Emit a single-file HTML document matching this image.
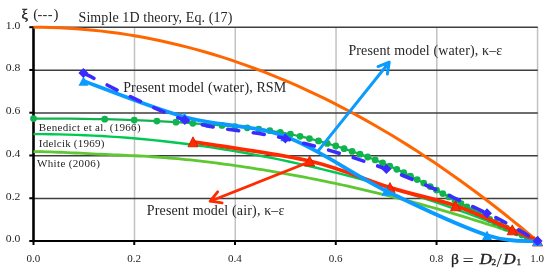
<!DOCTYPE html>
<html><head><meta charset="utf-8"><style>
html,body{margin:0;padding:0;background:#fff;width:550px;height:274px;overflow:hidden}
svg{display:block;filter:blur(0.3px)}
</style></head><body>
<svg width="550" height="274" viewBox="0 0 550 274">
<rect width="550" height="274" fill="#fff"/>
<line x1="134.51" y1="27.2" x2="134.51" y2="241" stroke="#c2c2c2" stroke-width="1.5"/><line x1="235.27" y1="27.2" x2="235.27" y2="241" stroke="#c2c2c2" stroke-width="1.5"/><line x1="336.03" y1="27.2" x2="336.03" y2="241" stroke="#c2c2c2" stroke-width="1.5"/><line x1="436.79" y1="27.2" x2="436.79" y2="241" stroke="#c2c2c2" stroke-width="1.5"/><line x1="537.55" y1="27.2" x2="537.55" y2="241" stroke="#c2c2c2" stroke-width="1.5"/><line x1="33.5" y1="198.54" x2="537.8" y2="198.54" stroke="#3e3e3e" stroke-width="1.4"/><line x1="33.5" y1="155.78" x2="537.8" y2="155.78" stroke="#3e3e3e" stroke-width="1.4"/><line x1="33.5" y1="113.02" x2="537.8" y2="113.02" stroke="#3e3e3e" stroke-width="1.4"/><line x1="33.5" y1="70.26" x2="537.8" y2="70.26" stroke="#3e3e3e" stroke-width="1.4"/><line x1="33.5" y1="27.2" x2="537.8" y2="27.2" stroke="#3e3e3e" stroke-width="1.4"/>
<line x1="29.3" y1="241" x2="33.5" y2="241" stroke="#000" stroke-width="2"/><line x1="29.3" y1="198.24" x2="33.5" y2="198.24" stroke="#000" stroke-width="2"/><line x1="29.3" y1="155.48" x2="33.5" y2="155.48" stroke="#000" stroke-width="2"/><line x1="29.3" y1="112.72" x2="33.5" y2="112.72" stroke="#000" stroke-width="2"/><line x1="29.3" y1="69.96" x2="33.5" y2="69.96" stroke="#000" stroke-width="2"/><line x1="29.3" y1="27.2" x2="33.5" y2="27.2" stroke="#000" stroke-width="2"/><line x1="33.5" y1="241" x2="33.5" y2="245" stroke="#000" stroke-width="2"/><line x1="134.26" y1="241" x2="134.26" y2="245" stroke="#000" stroke-width="2"/><line x1="235.02" y1="241" x2="235.02" y2="245" stroke="#000" stroke-width="2"/><line x1="335.78" y1="241" x2="335.78" y2="245" stroke="#000" stroke-width="2"/><line x1="436.54" y1="241" x2="436.54" y2="245" stroke="#000" stroke-width="2"/><line x1="537.3" y1="241" x2="537.3" y2="245" stroke="#000" stroke-width="2"/>
<line x1="33.5" y1="26.6" x2="33.5" y2="242.1" stroke="#000" stroke-width="2.6"/><line x1="32.2" y1="241" x2="537.3" y2="241" stroke="#000" stroke-width="2.2"/>
<path d="M33.5,151.55 L37.73,151.62 L41.97,151.71 L46.2,151.83 L50.43,151.96 L54.67,152.1 L58.9,152.26 L63.14,152.44 L67.37,152.62 L71.6,152.81 L75.84,153.01 L80.07,153.22 L84.3,153.42 L88.54,153.63 L92.77,153.83 L97,154.03 L101.24,154.23 L105.47,154.42 L109.71,154.61 L113.94,154.79 L118.17,154.98 L122.41,155.17 L126.64,155.36 L130.87,155.56 L135.11,155.77 L139.34,155.99 L143.57,156.22 L147.81,156.47 L152.04,156.74 L156.27,157.02 L160.51,157.32 L164.74,157.64 L168.98,157.98 L173.21,158.34 L177.44,158.72 L181.68,159.12 L185.91,159.54 L190.14,159.98 L194.38,160.43 L198.61,160.9 L202.84,161.39 L207.08,161.89 L211.31,162.41 L215.55,162.95 L219.78,163.49 L224.01,164.05 L228.25,164.63 L232.48,165.22 L236.71,165.82 L240.95,166.43 L245.18,167.06 L249.41,167.7 L253.65,168.35 L257.88,169.02 L262.12,169.69 L266.35,170.39 L270.58,171.09 L274.82,171.81 L279.05,172.54 L283.28,173.28 L287.52,174.03 L291.75,174.8 L295.98,175.58 L300.22,176.37 L304.45,177.18 L308.68,178 L312.92,178.83 L317.15,179.67 L321.39,180.53 L325.62,181.39 L329.85,182.28 L334.09,183.17 L338.32,184.08 L342.55,185 L346.79,185.93 L351.02,186.87 L355.25,187.83 L359.49,188.8 L363.72,189.78 L367.96,190.78 L372.19,191.79 L376.42,192.81 L380.66,193.84 L384.89,194.89 L389.12,195.95 L393.36,197.02 L397.59,198.1 L401.82,199.2 L406.06,200.31 L410.29,201.43 L414.53,202.57 L418.76,203.71 L422.99,204.87 L427.23,206.05 L431.46,207.23 L435.69,208.43 L439.93,209.64 L444.16,210.87 L448.39,212.1 L452.63,213.35 L456.86,214.61 L461.09,215.89 L465.33,217.18 L469.56,218.48 L473.8,219.79 L478.03,221.11 L482.26,222.45 L486.5,223.8 L490.73,225.17 L494.96,226.54 L499.2,227.93 L503.43,229.33 L507.66,230.75 L511.9,232.17 L516.13,233.61 L520.37,235.06 L524.6,236.53 L528.83,238.01 L533.07,239.5 L537.3,241" fill="none" stroke="#5ec832" stroke-width="2.8"/>
<path d="M33.5,134.1 L42.04,134.13 L50.58,134.22 L59.12,134.38 L67.66,134.59 L76.19,134.87 L84.73,135.21 L93.27,135.6 L101.81,136.07 L110.35,136.59 L118.89,137.17 L127.43,137.82 L135.97,138.52 L144.51,139.29 L153.05,140.12 L161.58,141.01 L170.12,141.96 L178.66,142.98 L187.2,144.05 L195.74,145.19 L204.28,146.38 L212.82,147.64 L221.36,148.96 L229.9,150.35 L238.44,151.79 L246.97,153.29 L255.51,154.86 L264.05,156.49 L272.59,158.18 L281.13,159.93 L289.67,161.74 L298.21,163.61 L306.75,165.55 L315.29,167.54 L323.83,169.6 L332.36,171.72 L340.9,173.9 L349.44,176.14 L357.98,178.44 L366.52,180.81 L375.06,183.24 L383.6,185.72 L392.14,188.27 L400.68,190.88 L409.22,193.55 L417.75,196.29 L426.29,199.08 L434.83,201.94 L443.37,204.85 L451.91,207.83 L460.45,210.87 L468.99,213.98 L477.53,217.14 L486.07,220.36 L494.61,223.65 L503.14,227 L511.68,230.41 L520.22,233.88 L528.76,237.41 L537.3,241" fill="none" stroke="#00c853" stroke-width="2.4"/>
<path d="M33.5,118.58 L69.12,118.72 L83.88,118.87 L95.2,119.04 L104.75,119.22 L113.16,119.42 L120.76,119.63 L127.75,119.85 L134.26,120.08 L140.37,120.32 L146.15,120.56 L151.65,120.82 L156.91,121.08 L161.94,121.35 L166.79,121.62 L171.47,121.89 L176,122.17 L180.38,122.45 L184.64,122.73 L188.78,123.01 L192.82,123.28 L196.75,123.56 L200.59,123.83 L204.35,124.1 L208.02,124.37 L211.62,124.64 L215.15,124.91 L218.61,125.19 L222,125.46 L225.34,125.74 L228.62,126.02 L231.85,126.3 L235.02,126.59 L238.14,126.89 L241.22,127.19 L244.25,127.5 L247.24,127.81 L250.19,128.13 L253.1,128.46 L255.97,128.8 L258.81,129.15 L261.61,129.51 L264.37,129.88 L267.1,130.27 L269.8,130.66 L272.47,131.07 L275.11,131.49 L277.73,131.93 L280.31,132.37 L282.87,132.83 L285.4,133.3 L287.91,133.78 L290.39,134.27 L292.85,134.78 L295.28,135.29 L297.69,135.81 L300.09,136.35 L302.46,136.89 L304.8,137.44 L307.13,138 L309.44,138.58 L311.73,139.15 L314,139.74 L316.26,140.34 L318.49,140.94 L320.71,141.55 L322.91,142.17 L325.1,142.79 L327.26,143.42 L329.42,144.06 L331.55,144.7 L333.67,145.35 L335.78,146 L337.87,146.66 L339.95,147.32 L342.01,147.99 L344.06,148.66 L346.1,149.34 L348.12,150.02 L350.13,150.7 L352.13,151.38 L354.12,152.07 L356.09,152.76 L358.05,153.46 L360,154.16 L361.94,154.86 L363.86,155.57 L365.78,156.28 L367.68,156.99 L369.58,157.71 L371.46,158.44 L373.33,159.17 L375.19,159.91 L377.05,160.65 L378.89,161.4 L380.72,162.16 L382.54,162.93 L384.36,163.7 L386.16,164.48 L387.95,165.26 L389.74,166.06 L391.52,166.86 L393.29,167.67 L395.04,168.49 L396.8,169.32 L398.54,170.15 L400.27,170.99 L402,171.84 L403.72,172.69 L405.43,173.54 L407.13,174.4 L408.82,175.26 L410.51,176.12 L412.19,176.99 L413.86,177.86 L415.53,178.73 L417.18,179.6 L418.83,180.47 L420.48,181.35 L422.11,182.22 L423.74,183.09 L425.36,183.97 L426.98,184.84 L428.59,185.71 L430.19,186.58 L431.79,187.45 L433.38,188.33 L434.96,189.2 L436.54,190.06 L438.11,190.93 L439.68,191.8 L441.24,192.66 L442.79,193.53 L444.34,194.39 L445.88,195.25 L447.41,196.11 L448.94,196.96 L450.47,197.82 L451.99,198.67 L453.5,199.52 L455.01,200.37 L456.51,201.21 L458.01,202.05 L459.5,202.89 L460.99,203.72 L462.47,204.55 L463.95,205.38 L465.42,206.2 L466.89,207.02 L468.35,207.84 L469.8,208.65 L471.26,209.46 L472.7,210.26 L474.15,211.06 L475.58,211.86 L477.02,212.65 L478.44,213.43 L479.87,214.21 L481.29,214.98 L482.7,215.75 L484.11,216.52 L485.52,217.28 L486.92,218.03 L488.32,218.77 L489.71,219.52 L491.1,220.25 L492.48,220.98 L493.86,221.7 L495.24,222.41 L496.61,223.12 L497.98,223.82 L499.34,224.52 L500.7,225.21 L502.06,225.89 L503.41,226.56 L504.76,227.23 L506.11,227.88 L507.45,228.53 L508.78,229.17 L510.12,229.81 L511.45,230.43 L512.77,231.05 L514.09,231.66 L515.41,232.26 L516.73,232.85 L518.04,233.43 L519.35,234.01 L520.65,234.57 L521.95,235.12 L523.25,235.67 L524.54,236.21 L525.83,236.73 L527.12,237.25 L528.4,237.75 L529.69,238.25 L530.96,238.73 L532.24,239.21 L533.51,239.67 L534.77,240.13 L536.04,240.57 L537.3,241" fill="none" stroke="#10b44e" stroke-width="2.2"/>
<g fill="#10b44e"><circle cx="33.5" cy="118.58" r="3.4"/><circle cx="104.75" cy="119.22" r="3.4"/><circle cx="134.26" cy="120.08" r="3.4"/><circle cx="156.91" cy="121.08" r="3.4"/><circle cx="176" cy="122.17" r="3.4"/><circle cx="192.82" cy="123.28" r="3.4"/><circle cx="208.02" cy="124.37" r="3.4"/><circle cx="222" cy="125.46" r="3.4"/><circle cx="235.02" cy="126.59" r="3.4"/><circle cx="247.24" cy="127.81" r="3.4"/><circle cx="258.81" cy="129.15" r="3.4"/><circle cx="269.8" cy="130.66" r="3.4"/><circle cx="280.31" cy="132.37" r="3.4"/><circle cx="290.39" cy="134.27" r="3.4"/><circle cx="300.09" cy="136.35" r="3.4"/><circle cx="309.44" cy="138.58" r="3.4"/><circle cx="318.49" cy="140.94" r="3.4"/><circle cx="327.26" cy="143.42" r="3.4"/><circle cx="335.78" cy="146" r="3.4"/><circle cx="344.06" cy="148.66" r="3.4"/><circle cx="352.13" cy="151.38" r="3.4"/><circle cx="360" cy="154.16" r="3.4"/><circle cx="367.68" cy="156.99" r="3.4"/><circle cx="375.19" cy="159.91" r="3.4"/><circle cx="382.54" cy="162.93" r="3.4"/><circle cx="389.74" cy="166.06" r="3.4"/><circle cx="396.8" cy="169.32" r="3.4"/><circle cx="403.72" cy="172.69" r="3.4"/><circle cx="410.51" cy="176.12" r="3.4"/><circle cx="417.18" cy="179.6" r="3.4"/><circle cx="423.74" cy="183.09" r="3.4"/><circle cx="430.19" cy="186.58" r="3.4"/><circle cx="436.54" cy="190.06" r="3.4"/><circle cx="442.79" cy="193.53" r="3.4"/><circle cx="448.94" cy="196.96" r="3.4"/><circle cx="455.01" cy="200.37" r="3.4"/><circle cx="460.99" cy="203.72" r="3.4"/><circle cx="466.89" cy="207.02" r="3.4"/><circle cx="472.7" cy="210.26" r="3.4"/><circle cx="478.44" cy="213.43" r="3.4"/><circle cx="484.11" cy="216.52" r="3.4"/><circle cx="489.71" cy="219.52" r="3.4"/><circle cx="495.24" cy="222.41" r="3.4"/><circle cx="500.7" cy="225.21" r="3.4"/><circle cx="506.11" cy="227.88" r="3.4"/><circle cx="511.45" cy="230.43" r="3.4"/><circle cx="516.73" cy="232.85" r="3.4"/><circle cx="521.95" cy="235.12" r="3.4"/><circle cx="527.12" cy="237.25" r="3.4"/><circle cx="532.24" cy="239.21" r="3.4"/><circle cx="537.3" cy="241" r="3.4"/></g>
<path d="M33.5,27.2 L42.04,27.26 L50.58,27.45 L59.12,27.75 L67.66,28.18 L76.19,28.74 L84.73,29.41 L93.27,30.21 L101.81,31.13 L110.35,32.17 L118.89,33.34 L127.43,34.63 L135.97,36.04 L144.51,37.58 L153.05,39.24 L161.58,41.02 L170.12,42.92 L178.66,44.95 L187.2,47.1 L195.74,49.37 L204.28,51.77 L212.82,54.29 L221.36,56.93 L229.9,59.69 L238.44,62.58 L246.97,65.59 L255.51,68.72 L264.05,71.97 L272.59,75.35 L281.13,78.85 L289.67,82.48 L298.21,86.22 L306.75,90.09 L315.29,94.09 L323.83,98.2 L332.36,102.44 L340.9,106.8 L349.44,111.28 L357.98,115.89 L366.52,120.62 L375.06,125.47 L383.6,130.45 L392.14,135.54 L400.68,140.76 L409.22,146.11 L417.75,151.57 L426.29,157.16 L434.83,162.87 L443.37,168.71 L451.91,174.67 L460.45,180.75 L468.99,186.95 L477.53,193.28 L486.07,199.73 L494.61,206.3 L503.14,212.99 L511.68,219.81 L520.22,226.75 L528.76,233.81 L537.3,241" fill="none" stroke="#ff6600" stroke-width="3"/>
<path d="M193,141.8 C212.43,145 276.77,153.37 309.6,161 C342.43,168.63 365.67,180.13 390,187.6 C414.33,195.07 435.22,198.77 455.6,205.8 C475.98,212.83 498.63,223.93 512.3,229.8 C525.97,235.67 533.38,239.13 537.6,241" fill="none" stroke="#ff2a00" stroke-width="3.8" stroke-linejoin="round"/>
<path d="M193,136.8 L198.1,146.8 L187.9,146.8Z M309.6,156 L314.7,166 L304.5,166Z M390,182.6 L395.1,192.6 L384.9,192.6Z M455.6,200.8 L460.7,210.8 L450.5,210.8Z M512.3,224.8 L517.4,234.8 L507.2,234.8Z M537.6,236 L542.7,246 L532.5,246Z" fill="#ff2a00" stroke="#d01800" stroke-width="0.8"/>
<path d="M83.5,81 C100.33,87 150.87,107.75 184.5,117 C218.13,126.25 251.65,124.17 285.3,136.5 C318.95,148.83 352.78,174.55 386.4,191 C420.02,207.45 461.82,226.82 487,235.2 C512.18,243.58 529.08,240.28 537.5,241.3" fill="none" stroke="#0a9bff" stroke-width="3.8" stroke-linejoin="round"/>
<path d="M83.5,76.25 L88.5,85.75 L78.5,85.75Z M184.5,112.25 L189.5,121.75 L179.5,121.75Z M285.3,131.75 L290.3,141.25 L280.3,141.25Z M386.4,186.25 L391.4,195.75 L381.4,195.75Z M487,230.45 L492,239.95 L482,239.95Z M537.5,236.55 L542.5,246.05 L532.5,246.05Z" fill="#0a9bff"/>
<path d="M83.4,73.1 C100.3,80.92 151.13,109.08 184.8,120 C218.47,130.92 251.8,130.42 285.4,138.6 C319,146.78 352.8,156.65 386.4,169.1 C420,181.55 461.8,201.32 487,213.3 C512.2,225.28 529.17,236.38 537.6,241" fill="none" stroke="#3a2cff" stroke-width="3.6" stroke-dasharray="11 14.8" stroke-dashoffset="-1" stroke-linecap="round"/>
<path d="M83.4,68.1 L88.4,73.1 L83.4,78.1 L78.4,73.1Z M184.8,115 L189.8,120 L184.8,125 L179.8,120Z M285.4,133.6 L290.4,138.6 L285.4,143.6 L280.4,138.6Z M386.4,164.1 L391.4,169.1 L386.4,174.1 L381.4,169.1Z M487,208.3 L492,213.3 L487,218.3 L482,213.3Z M537.6,236 L542.6,241 L537.6,246 L532.6,241Z" fill="#3a2cff"/>
<path d="M317.8,151.4 L389.2,62.2 M387.39,74.06 L389.2,62.2 L378.02,66.56" fill="none" stroke="#0a9bff" stroke-width="3.0" stroke-linecap="round" stroke-linejoin="round"/>
<path d="M307.3,162.8 L210.2,201.2 M217.66,191.8 L210.2,201.2 L222.07,202.96" fill="none" stroke="#ff2a00" stroke-width="2.8" stroke-linecap="round" stroke-linejoin="round"/>
<g style="font-family:'Liberation Serif',serif" fill="#262626">
<text x="78.5" y="21.8" font-size="14" textLength="153.8" lengthAdjust="spacing" >Simple 1D theory, Eq. (17)</text><text x="348.4" y="55.2" font-size="14" textLength="153.8" lengthAdjust="spacing" >Present model (water), κ–ε</text><text x="123.2" y="92" font-size="14" textLength="163" lengthAdjust="spacing" >Present model (water), RSM</text><text x="146.8" y="215" font-size="14" textLength="137.6" lengthAdjust="spacing" >Present model (air), κ–ε</text><text x="38.8" y="131.2" font-size="11" textLength="101.8" lengthAdjust="spacing" >Benedict et al. (1966)</text><text x="38.8" y="146.7" font-size="11" textLength="65.5" lengthAdjust="spacing" >Idelcik (1969)</text><text x="37" y="167" font-size="11" textLength="62.8" lengthAdjust="spacing" >White (2006)</text><text x="21.5" y="19" font-size="14.5" stroke="#1a1a1a" stroke-width="0.45">ξ</text><text x="33.2" y="19.2" font-size="14.8">(</text><text x="37.5 42.6 47.7" y="19" font-size="14.5" fill="#333">---</text><text x="53.6" y="19.2" font-size="14.8">)</text>
<text x="20.4" y="28.6" font-size="10" text-anchor="end" textLength="14.6" lengthAdjust="spacingAndGlyphs">1.0</text><text x="20.4" y="71.36" font-size="10" text-anchor="end" textLength="14.6" lengthAdjust="spacingAndGlyphs">0.8</text><text x="20.4" y="114.12" font-size="10" text-anchor="end" textLength="14.6" lengthAdjust="spacingAndGlyphs">0.6</text><text x="20.4" y="156.88" font-size="10" text-anchor="end" textLength="14.6" lengthAdjust="spacingAndGlyphs">0.4</text><text x="20.4" y="199.64" font-size="10" text-anchor="end" textLength="14.6" lengthAdjust="spacingAndGlyphs">0.2</text><text x="20.4" y="242.4" font-size="10" text-anchor="end" textLength="14.6" lengthAdjust="spacingAndGlyphs">0.0</text>
<text x="33.3" y="262" font-size="10" text-anchor="middle" textLength="13.8" lengthAdjust="spacingAndGlyphs">0.0</text><text x="134.06" y="262" font-size="10" text-anchor="middle" textLength="13.8" lengthAdjust="spacingAndGlyphs">0.2</text><text x="234.82" y="262" font-size="10" text-anchor="middle" textLength="13.8" lengthAdjust="spacingAndGlyphs">0.4</text><text x="335.58" y="262" font-size="10" text-anchor="middle" textLength="13.8" lengthAdjust="spacingAndGlyphs">0.6</text><text x="436.34" y="262" font-size="10" text-anchor="middle" textLength="13.8" lengthAdjust="spacingAndGlyphs">0.8</text><text x="537.1" y="262" font-size="10" text-anchor="middle" textLength="13.8" lengthAdjust="spacingAndGlyphs">1.0</text>
<text x="450.9" y="263.8" font-size="15.5" stroke="#1a1a1a" stroke-width="0.35">β</text><text x="462.6" y="265.7" font-size="16" textLength="11.2" lengthAdjust="spacingAndGlyphs">=</text><g font-style="italic" stroke="#1a1a1a" stroke-width="0.35"><text x="479.6" y="263.5" font-size="14.2" textLength="12.4" lengthAdjust="spacingAndGlyphs">D</text><text x="503.3" y="263.5" font-size="14.2" textLength="12.4" lengthAdjust="spacingAndGlyphs">D</text></g><text x="491.4" y="265.4" font-size="9.2" stroke="#1a1a1a" stroke-width="0.3">2</text><text x="496.4" y="266.6" font-size="19.5">/</text><text x="516.6" y="265.4" font-size="9.2" stroke="#1a1a1a" stroke-width="0.3">1</text>
</g>
</svg>
</body></html>
